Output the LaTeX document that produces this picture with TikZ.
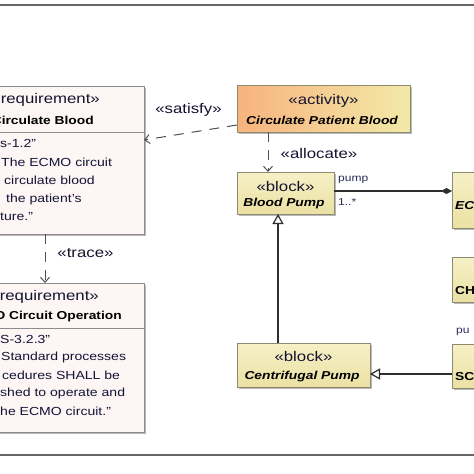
\documentclass[tikz,border=0pt]{standalone}
\usepackage{fontspec}
\setmainfont{Liberation Sans}[FakeStretch=1.2]
\usetikzlibrary{arrows.meta,calc,shadows}
\definecolor{boxline}{HTML}{8E8A72}
\definecolor{reqline}{HTML}{8C8C8C}
\definecolor{blktop}{HTML}{F6F0C6}
\definecolor{blkbot}{HTML}{EBE1A4}
\definecolor{actl}{HTML}{F7B37E}
\definecolor{actr}{HTML}{F3E9A8}
\definecolor{reqfill}{HTML}{FDF6F4}
\definecolor{stc}{HTML}{141430}
\definecolor{bodyc}{HTML}{141438}
\definecolor{lblc}{HTML}{2A2A5A}
\definecolor{linec}{HTML}{2E2E2E}
\definecolor{depc}{HTML}{505050}
\definecolor{rulec}{HTML}{666666}
\begin{document}
\begin{tikzpicture}[x=1pt,y=-1pt,
  box/.style={draw=boxline, line width=0.9pt, inner sep=0pt, outer sep=0pt,
    drop shadow={shadow xshift=2pt,shadow yshift=-2pt,fill=black!28,opacity=1}},
  blockbox/.style={box, top color=blktop, bottom color=blkbot},
  actbox/.style={box, left color=actl, right color=actr},
  reqbox/.style={box, draw=reqline, fill=reqfill},
  ster/.style={font=\fontsize{14}{16}\selectfont, text=stc, inner sep=0pt},
  bname/.style={font=\bfseries\itshape\fontsize{11.5}{13}\selectfont, inner sep=0pt},
  rname/.style={font=\bfseries\fontsize{11.5}{13}\selectfont, inner sep=0pt},
  body/.style={font=\fontsize{11.7}{14}\selectfont, text=bodyc, inner sep=0pt, anchor=west},
  lbl/.style={font=\fontsize{10}{12}\selectfont, text=lblc, inner sep=0pt},
  sepline/.style={draw=reqline, line width=0.9pt},
  dep/.style={draw=depc, line width=1pt, dash pattern=on 10pt off 8pt,
    -{Straight Barb[length=5pt,width=9pt]}},
  gen/.style={draw=linec, line width=1.2pt, -{Triangle[open,length=10pt,width=11pt,fill=white]}},
  comp/.style={draw=linec, line width=1.2pt, {Diamond[length=11pt,width=6pt]}-},
  rule/.style={draw=rulec, line width=1.2pt}]
\useasboundingbox (0,0) rectangle (474,474);
\clip (0,0) rectangle (474,474);
\fill[white] (0,0) rectangle (474,474);
\draw[rule] (0,5) -- (474,5);
\draw[rule] (0,455) -- (474,455);

% requirement boxes
\node[reqbox, minimum width=204pt, minimum height=148pt] (req1) at (42,160) {};
\node[reqbox, minimum width=204pt, minimum height=149pt] (req2) at (42,357.5) {};
\draw[sepline] ($(req1.north west)+(0,46)$) -- ($(req1.north east)+(0,46)$);
\draw[sepline] ($(req2.north west)+(0,45)$) -- ($(req2.north east)+(0,45)$);

\node[ster, anchor=east] (r1s) at (100,100) {«requirement»};
\node[rname, anchor=east] (r1n) at (94,120) {Circulate Blood};
\node[body] (r1a) at (0,143) {s-1.2"};
\node[body] (r1b) at (1,162) {The ECMO circuit};
\node[body] (r1c) at (4,180) {circulate blood};
\node[body] (r1d) at (6,199) {the patient's};
\node[body] (r1e) at (0,217) {ture."};

\node[ster, anchor=east] (r2s) at (99,297) {«requirement»};
\node[rname, anchor=east] (r2n) at (122,317) {ECMO Circuit Operation};
\node[body] (r2a) at (0,339) {S-3.2.3"};
\node[body] (r2b) at (1,357) {Standard processes};
\node[body] (r2c) at (2,375) {cedures SHALL be};
\node[body] (r2d) at (0,393) {shed to operate and};
\node[body] (r2e) at (0,411) {he ECMO circuit."};

% activity
\node[actbox, minimum width=173pt, minimum height=47pt] (act) at (323.5,108.5) {};
\node[ster] (actS) at (323.5,101) {«activity»};
\node[bname] (actN) at (322,120) {Circulate Patient Blood};

% blocks
\node[blockbox, minimum width=97pt, minimum height=42pt] (bp) at (285.5,193) {};
\node[ster] (bpS) at (285.5,186) {«block»};
\node[bname] (bpN) at (284,204) {Blood Pump};

\node[blockbox, minimum width=133pt, minimum height=44pt] (cp) at (303.5,365) {};
\node[ster] (cpS) at (303.5,356) {«block»};
\node[bname] (cpN) at (302,377) {Centrifugal Pump};

\node[blockbox, minimum width=108pt, minimum height=56pt] (ecmo) at (506,200) {};
\node[bname, anchor=west] (ecmoN) at (455,206) {EC};
\node[blockbox, minimum width=108pt, minimum height=45pt] (ch) at (506,279.5) {};
\node[rname, anchor=west] (chN) at (455,291) {CH};
\node[blockbox, minimum width=108pt, minimum height=44pt] (sc) at (506,366) {};
\node[rname, anchor=west] (scN) at (455,377) {SC};
\node[lbl, anchor=west] (puL) at (456,332) {pu};

% connectors
\draw[dep] ($(act.south west)+(0,-7)$) -- ($(req1.north east)+(0,54)$);
\node[ster] (satL) at (188.5,110) {«satisfy»};
\draw[dep] ($(act.south west)+(31,0)$) -- ($(bp.north west)+(31,0)$);
\node[ster] (allL) at (319,153) {«allocate»};
\draw[dep] ($(req1.south west)+(105,0)$) -- ($(req2.north west)+(105,0)$);
\node[ster] (trL) at (85.5,253) {«trace»};

\draw[comp] ($(ecmo.north west)+(0,19)$) -- ($(bp.north east)+(0,19)$);
\node[lbl, anchor=west] (pumpL) at (338,180) {pump};
\node[lbl, anchor=west] (multL) at (338,202) {1..*};

\draw[gen] ($(cp.north west)+(41,0)$) -- ($(bp.south west)+(41,0)$);
\draw[gen] ($(sc.north west)+(0,30)$) -- ($(cp.north east)+(0,31)$);
\end{tikzpicture}
\end{document}
